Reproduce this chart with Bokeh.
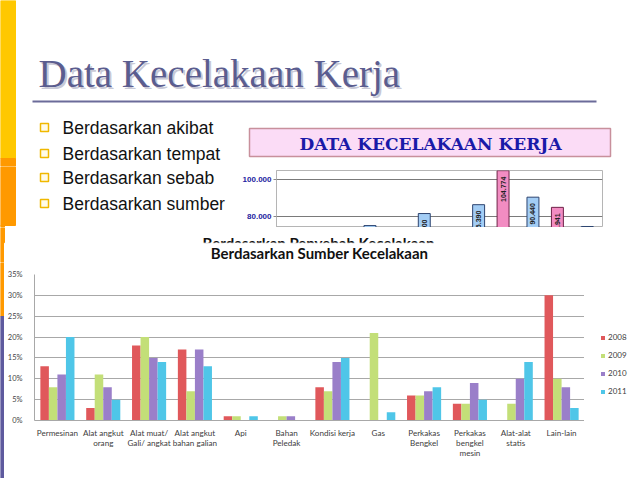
import numpy as np
from bokeh.plotting import figure
from bokeh.layouts import column, row
from bokeh.models import (ColumnDataSource, Range1d, FactorRange, FixedTicker,
                          Legend, LegendItem, PrintfTickFormatter)
from bokeh.transform import dodge
from bokeh.core.properties import value
from bokeh.embed import file_html
from bokeh.resources import INLINE

# ---------------- data ----------------
slide_title = "Data Kecelakaan Kerja"
bullets = ["Berdasarkan akibat", "Berdasarkan tempat", "Berdasarkan sebab", "Berdasarkan sumber"]

top_chart_title = "DATA KECELAKAAN KERJA"
top_idx = [0, 1, 2, 3, 4, 5]
top_blue = [np.nan, 75100, 81600, 86390, 90440, 74600]
top_pink = [np.nan, np.nan, np.nan, np.nan, 104774, 84941]
top_ticks = [80000, 100000]
top_tick_labels = ["80.000", "100.000"]

prev_title = "Berdasarkan Penyebab Kecelakaan"
chart_title = "Berdasarkan Sumber Kecelakaan"
categories = ["Permesinan", "Alat angkut\norang", "Alat muat/\nGali/ angkat",
              "Alat angkut\nbahan galian", "Api", "Bahan\nPeledak", "Kondisi kerja",
              "Gas", "Perkakas\nBengkel", "Perkakas\nbengkel\nmesin",
              "Alat-alat\nstatis", "Lain-lain"]
years = ["2008", "2009", "2010", "2011"]
v2008 = [13, 3, 18, 17, 1, 0, 8, 0, 6, 4, 0, 30]
v2009 = [8, 11, 20, 7, 1, 1, 7, 21, 6, 4, 4, 10]
v2010 = [11, 8, 15, 17, 0, 1, 14, 0, 7, 9, 10, 8]
v2011 = [20, 5, 14, 13, 1, 0, 15, 2, 8, 5, 14, 3]
y_ticks = [0, 5, 10, 15, 20, 25, 30, 35]

year_colors = ["#e0585b", "#c3df78", "#9a7fc9", "#4fc6e8"]

SANS = value("Liberation Sans")
SERIF = value("Liberation Serif")
LATO = value("Lato")


def pix_fig(w, h, x0, x1, y0, y1):
    f = figure(width=w, height=h, x_range=Range1d(x0, x1), y_range=Range1d(y1, y0),
               output_backend="svg", toolbar_location=None, min_border=0,
               x_axis_location=None, y_axis_location=None, frame_align=False)
    f.grid.visible = False
    f.outline_line_color = None
    f.background_fill_color = "white"
    f.border_fill_color = "white"
    return f


def bullet(f, ys, texts):
    f.scatter(x=[44] * len(ys), y=ys, marker="square", size=8, fill_color="#fffbe8",
              line_color="#f0b800", line_width=1.5)
    f.text(x=[62] * len(ys), y=ys, text=texts, text_font=SANS, text_font_size="17.5px",
           text_color="#111111", text_baseline="middle")


# ---------------- header ----------------
hdr = pix_fig(638, 166, 0, 638, 0, 166)
hdr.quad(left=[0], right=[15], top=[0], bottom=[158], color="#ffc800")
hdr.quad(left=[0], right=[15], top=[158], bottom=[166], color="#ff9900")
hdr.text(x=[40], y=[75], text=[slide_title], text_font=SERIF, text_font_size="39px",
         text_color="#c9c9d6", text_baseline="middle")
hdr.text(x=[38], y=[73], text=[slide_title], text_font=SERIF, text_font_size="39px",
         text_color="#5b5d8f", text_baseline="middle")
hdr.segment(x0=[32], y0=[101], x1=[596], y1=[101], line_color="#6b6b99", line_width=2)
bullet(hdr, [127, 153], bullets[:2])
hdr.quad(left=[249], right=[610], top=[128], bottom=[156], fill_color="#fbdcf6",
         line_color="#c8909c", line_width=1.5)
hdr.text(x=[430], y=[143], text=[top_chart_title], text_font=value("DejaVu Serif"),
         text_font_size="17px", text_font_style="bold", text_color="#1a1aa8",
         text_align="center", text_baseline="middle")

# ---------------- middle left ----------------
ml = pix_fig(230, 61, 0, 230, 166, 227)
ml.quad(left=[0], right=[15], top=[166], bottom=[225], color="#ff9900")
ml.quad(left=[0], right=[4], top=[225], bottom=[227], color="#ff9900")
bullet(ml, [177, 203], bullets[2:])

# ---------------- middle right: partial top chart ----------------
def fmt(v):
    if np.isnan(v):
        return ""
    return f"{int(v):,}".replace(",", ".")

tsrc = ColumnDataSource(dict(
    x=[i + 0.5 for i in top_idx], blue=top_blue, pink=top_pink,
    blue_lbl=[fmt(v) for v in top_blue], pink_lbl=[fmt(v) for v in top_pink]))

tc = figure(width=408, height=61, x_range=Range1d(0, 6), y_range=Range1d(74054, 104865),
            output_backend="svg", toolbar_location=None, x_axis_location=None,
            min_border_left=46, min_border_right=36, min_border_top=4, min_border_bottom=0,
            frame_align=False)
tc.background_fill_color = "white"
tc.border_fill_color = "white"
tc.outline_line_color = "#b5b5b5"
tc.xgrid.visible = False
tc.ygrid.ticker = FixedTicker(ticks=top_ticks)
tc.ygrid.grid_line_color = "#7a7a7a"
ax = tc.yaxis[0]
ax.ticker = FixedTicker(ticks=top_ticks)
ax.major_label_overrides = dict(zip(top_ticks, top_tick_labels))
ax.major_label_text_font = "Liberation Sans"
ax.major_label_text_font_size = "8px"
ax.major_label_text_font_style = "bold"
ax.major_label_text_color = "#2323a0"
ax.major_tick_in = 0
ax.major_tick_out = 3
ax.major_tick_line_color = "#888888"
ax.minor_tick_line_color = None
ax.axis_line_color = "#b5b5b5"
ax.major_label_standoff = 2

tc.vbar(x=dodge("x", 0.22, range=tc.x_range), top="blue", bottom=0, width=0.22,
        source=tsrc, fill_color="#a3cdf5", line_color="#2d4470", line_width=1)
tc.vbar(x=dodge("x", -0.33, range=tc.x_range), top="pink", bottom=0, width=0.22,
        source=tsrc, fill_color="#f28cc2", line_color="#6e2348", line_width=1)
tc.text(x=dodge("x", 0.22, range=tc.x_range), y="blue", text="blue_lbl", source=tsrc,
        angle=np.pi / 2, text_align="right", text_baseline="middle", y_offset=6,
        text_font=SANS, text_font_size="7px", text_font_style="bold", text_color="#222222")
tc.text(x=dodge("x", -0.33, range=tc.x_range), y="pink", text="pink_lbl", source=tsrc,
        angle=np.pi / 2, text_align="right", text_baseline="middle", y_offset=6,
        text_font=SANS, text_font_size="7px", text_font_style="bold", text_color="#222222")

# ---------------- main chart title ----------------
mt = pix_fig(638, 35, 0, 638, 227, 262)
mt.quad(left=[0], right=[4], top=[227], bottom=[262], color="#ff9900")
mt.text(x=[318], y=[242], text=[prev_title], text_font=LATO, text_font_size="15px",
        text_font_style="bold", text_color="#111111", text_align="center",
        text_baseline="middle")
mt.quad(left=[4], right=[638], top=[242.7], bottom=[262], color="white")
mt.text(x=[319], y=[252.5], text=[chart_title], text_font=LATO, text_font_size="15px",
        text_font_style="bold", text_color="#111111", text_align="center",
        text_baseline="middle")

# ---------------- left edge strip beside the main chart ----------------
st = pix_fig(4, 216, 0, 4, 262, 478)
st.quad(left=[0], right=[4], top=[262], bottom=[316], color="#ff9900")
st.quad(left=[0], right=[4], top=[316], bottom=[478], color="#5e5a9e")

# ---------------- main chart ----------------
src = ColumnDataSource(dict(cat=categories, y2008=v2008, y2009=v2009, y2010=v2010, y2011=v2011))
mc = figure(width=580, height=216, x_range=FactorRange(*categories), y_range=Range1d(0, 35),
            output_backend="svg", toolbar_location=None, frame_align=False,
            min_border_left=25, min_border_right=0, min_border_top=12, min_border_bottom=58)
mc.background_fill_color = "white"
mc.border_fill_color = "white"
mc.outline_line_color = None
mc.xgrid.visible = False
mc.ygrid.ticker = FixedTicker(ticks=y_ticks)
mc.ygrid.grid_line_color = "#a8a8a8"
mc.ygrid.grid_line_width = 1

ya = mc.yaxis[0]
ya.ticker = FixedTicker(ticks=y_ticks)
ya.formatter = PrintfTickFormatter(format="%d%%")
ya.major_label_text_font = "Lato"
ya.major_label_text_font_size = "7.5px"
ya.major_label_text_color = "#444444"
ya.major_tick_line_color = None
ya.minor_tick_line_color = None
ya.axis_line_color = "#a8a8a8"
ya.major_label_standoff = 6

xa = mc.xaxis[0]
xa.major_label_text_font = "Lato"
xa.major_label_text_font_size = "8.1px"
xa.major_label_text_line_height = 1.0
xa.major_label_text_color = "#404040"
xa.major_tick_line_color = None
xa.minor_tick_line_color = None
xa.axis_line_color = "#a8a8a8"
xa.major_label_standoff = 1

offsets = [-0.279, -0.093, 0.093, 0.279]
cols = ["y2008", "y2009", "y2010", "y2011"]
for col, off, c in zip(cols, offsets, year_colors):
    mc.vbar(x=dodge("cat", off, range=mc.x_range), top=col, width=0.186, source=src,
            fill_color=c, line_color=None)

# ---------------- legend panel ----------------
lg = pix_fig(54, 216, 584, 638, 262, 478)
items = []
for yr, c in zip(years, year_colors):
    r = lg.vbar(x=[np.nan], top=[np.nan], width=1, fill_color=c, line_color=None)
    items.append(LegendItem(label=yr, renderers=[r]))
leg = Legend(items=items, location=(16, 81), margin=0, padding=0, glyph_width=5,
             glyph_height=5, label_standoff=3, spacing=6, label_height=12,
             label_text_font="Lato", label_text_font_size="8px",
             label_text_color="#404040", border_line_color=None,
             background_fill_alpha=0)
lg.add_layout(leg, "center")

layout = column(hdr, row(ml, tc), mt, row(st, mc, lg))

open("out.html", "w").write(file_html(layout, INLINE))
